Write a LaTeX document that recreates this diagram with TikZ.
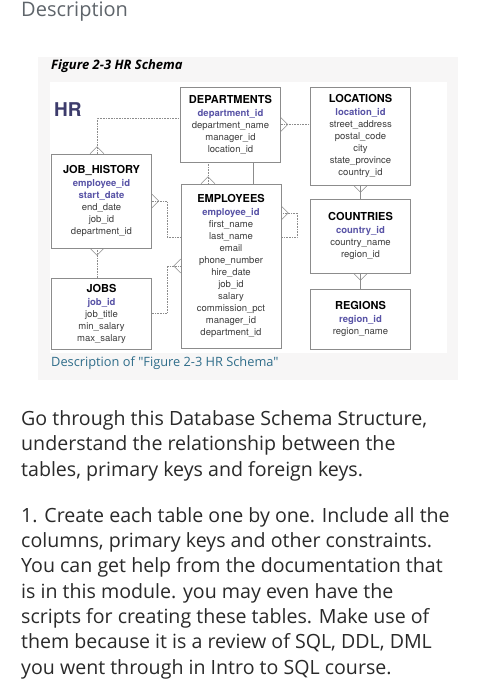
\documentclass[tikz,border=0pt]{standalone}
\usepackage{fontspec}
\setmainfont{Open Sans}
\newfontfamily\helv{TeX Gyre Heros}
\newfontfamily\capfont{Open Sans}
\usepackage{xcolor}
\usetikzlibrary{calc}
\definecolor{pkblue}{HTML}{5853A6}
\definecolor{fieldgray}{HTML}{3C3C3C}
\definecolor{linegray}{HTML}{8C8C8C}
\definecolor{panelgray}{HTML}{F7F6F6}
\definecolor{hrblue}{HTML}{3D3C6C}
\definecolor{captionteal}{HTML}{2F6D8A}
\definecolor{headgray}{HTML}{5F656B}
\definecolor{bodygray}{HTML}{2A2A2A}
\newcommand{\pk}[1]{\textcolor{pkblue}{\bfseries #1}}
\newcommand{\tbl}[1]{{\fontsize{11}{13}\selectfont\bfseries\color{black} #1}}
% crow's foot: toes on the box edge, apex pointing away
\newcommand{\crowfoot}[2]{%
  \begin{scope}[shift={#1},rotate=#2]
    \draw[footline] (0,-7) -- (7,0) -- (0,7);
  \end{scope}}

\begin{document}
\begin{tikzpicture}[x=1pt,y=-1pt,
    table/.style={draw=linegray,line width=0.6pt,fill=white,minimum width=100pt,
      align=center,inner sep=0pt,text=fieldgray,font=\helv\fontsize{9.5}{12}\selectfont},
    rel/.style={linegray,line width=0.6pt,densely dotted},
    relsolid/.style={linegray,line width=0.6pt},
    footline/.style={linegray,line width=0.6pt},
    body/.style={anchor=base west,align=left,inner sep=0pt,text=bodygray,
      font=\fontsize{19.6}{25.3}\selectfont}]
  \useasboundingbox (0,0) rectangle (480,700);
  \fill[white] (0,0) rectangle (480,700);
  % grey panel with the white figure
  \fill[panelgray] (38,57) rectangle (458,380);
  \fill[white] (50,82) rectangle (447,353);

  \node[anchor=base west,inner sep=0pt,text=headgray,font=\fontsize{20}{24}\selectfont]
    (head) at (21,17) {Description};
  \node[anchor=west,inner sep=0pt,font=\fontsize{13}{15}\selectfont\bfseries\itshape]
    (figcap) at (51,66) {Figure 2-3 HR Schema};
  \node[anchor=west,inner sep=0pt,text=hrblue,font=\helv\fontsize{19}{22}\selectfont\bfseries]
    (hr) at (54,110) {HR};

  % tables
  \node[table,minimum height=75pt] (dept) at (230.5,124.5)
    {\tbl{DEPARTMENTS}\\[1pt] \pk{department\_id}\\ department\_name\\ manager\_id\\ location\_id};
  \node[table,minimum height=98pt] (loc) at (360.5,136)
    {\tbl{LOCATIONS}\\[1pt] \pk{location\_id}\\ street\_address\\ postal\_code\\ city\\ state\_province\\ country\_id};
  \node[table,minimum height=94pt] (jh) at (101.5,201)
    {\tbl{JOB\_HISTORY}\\[1pt] \pk{employee\_id}\\ \pk{start\_date}\\ end\_date\\ job\_id\\ department\_id};
  \node[table,minimum height=164pt] (emp) at (231,266)
    {\tbl{EMPLOYEES}\\[1pt] \pk{employee\_id}\\ first\_name\\ last\_name\\ email\\ phone\_number\\ hire\_date\\
     job\_id\\ salary\\ commission\_pct\\ manager\_id\\ department\_id};
  \node[table,minimum height=74pt] (ctry) at (360.5,236)
    {\tbl{COUNTRIES}\\[1pt] \pk{country\_id}\\ country\_name\\ region\_id};
  \node[table,minimum height=60pt] (reg) at (360.5,319)
    {\tbl{REGIONS}\\[1pt] \pk{region\_id}\\ region\_name};
  \node[table,minimum height=71pt] (jobs) at (101.5,313.5)
    {\tbl{JOBS}\\[1pt] \pk{job\_id}\\ job\_title\\ min\_salary\\ max\_salary};

  % relationships
  \coordinate (jhtop) at ($(jh.north)+(-4.5,0)$);
  \coordinate (jhbot) at ($(jh.south)+(-4.5,0)$);
  \coordinate (empdept) at ($(emp.north)+(-23,0)$);
  \coordinate (empmgr) at ($(emp.east)+(0,-53)$);
  \draw[rel] ($(dept.west)+(0,-6.5)$) -| (jhtop);
  \crowfoot{(jhtop)}{90}
  \draw[rel] ($(dept.south)+(-22.5,0)$) -- (empdept);
  \crowfoot{(empdept)}{90}
  \draw[relsolid] ($(dept.south)+(22.5,0)$) -- ($(emp.north)+(22,0)$);
  \draw[rel] (dept.east) -- (dept.east -| loc.west);
  \crowfoot{(dept.east)}{0}
  \draw[rel] (jh.east) -- ++(15,0) |- ($(emp.west)+(0,-29)$);
  \crowfoot{(jh.east)}{0}
  \draw[rel] (jhbot) -- (jhbot |- jobs.north);
  \crowfoot{(jhbot)}{-90}
  \draw[rel] (jobs.east) -- ++(15,0) |- (emp.west);
  \crowfoot{(emp.west)}{180}
  \draw[rel] (empmgr) -- ++(16,0) |- ($(emp.east)+(0,-29)$);
  \crowfoot{(empmgr)}{0}
  \draw[relsolid] (loc.south) -- (ctry.north);
  \crowfoot{(loc.south)}{-90}
  \draw[relsolid] (ctry.south) -- (reg.north);
  \crowfoot{(ctry.south)}{-90}

  \node[anchor=west,inner sep=0pt,text=captionteal,font=\capfont\fontsize{12.8}{15}\selectfont]
    (desc) at (51,363) {Description of "Figure 2-3 HR Schema"};

  % question text (base is the last line)
  \node[body] (para1) at (21,476)
    {Go through this Database Schema Structure,\\ understand the relationship between the\\
     tables, primary keys and foreign keys.};
  \node[body] (para2) at (21,674)
    {1. Create each table one by one. Include all the\\ columns, primary keys and other constraints.\\
     You can get help from the documentation that\\ is in this module. you may even have the\\
     scripts for creating these tables. Make use of\\ them because it is a review of SQL, DDL, DML\\
     you went through in Intro to SQL course.};
\end{tikzpicture}
\end{document}
